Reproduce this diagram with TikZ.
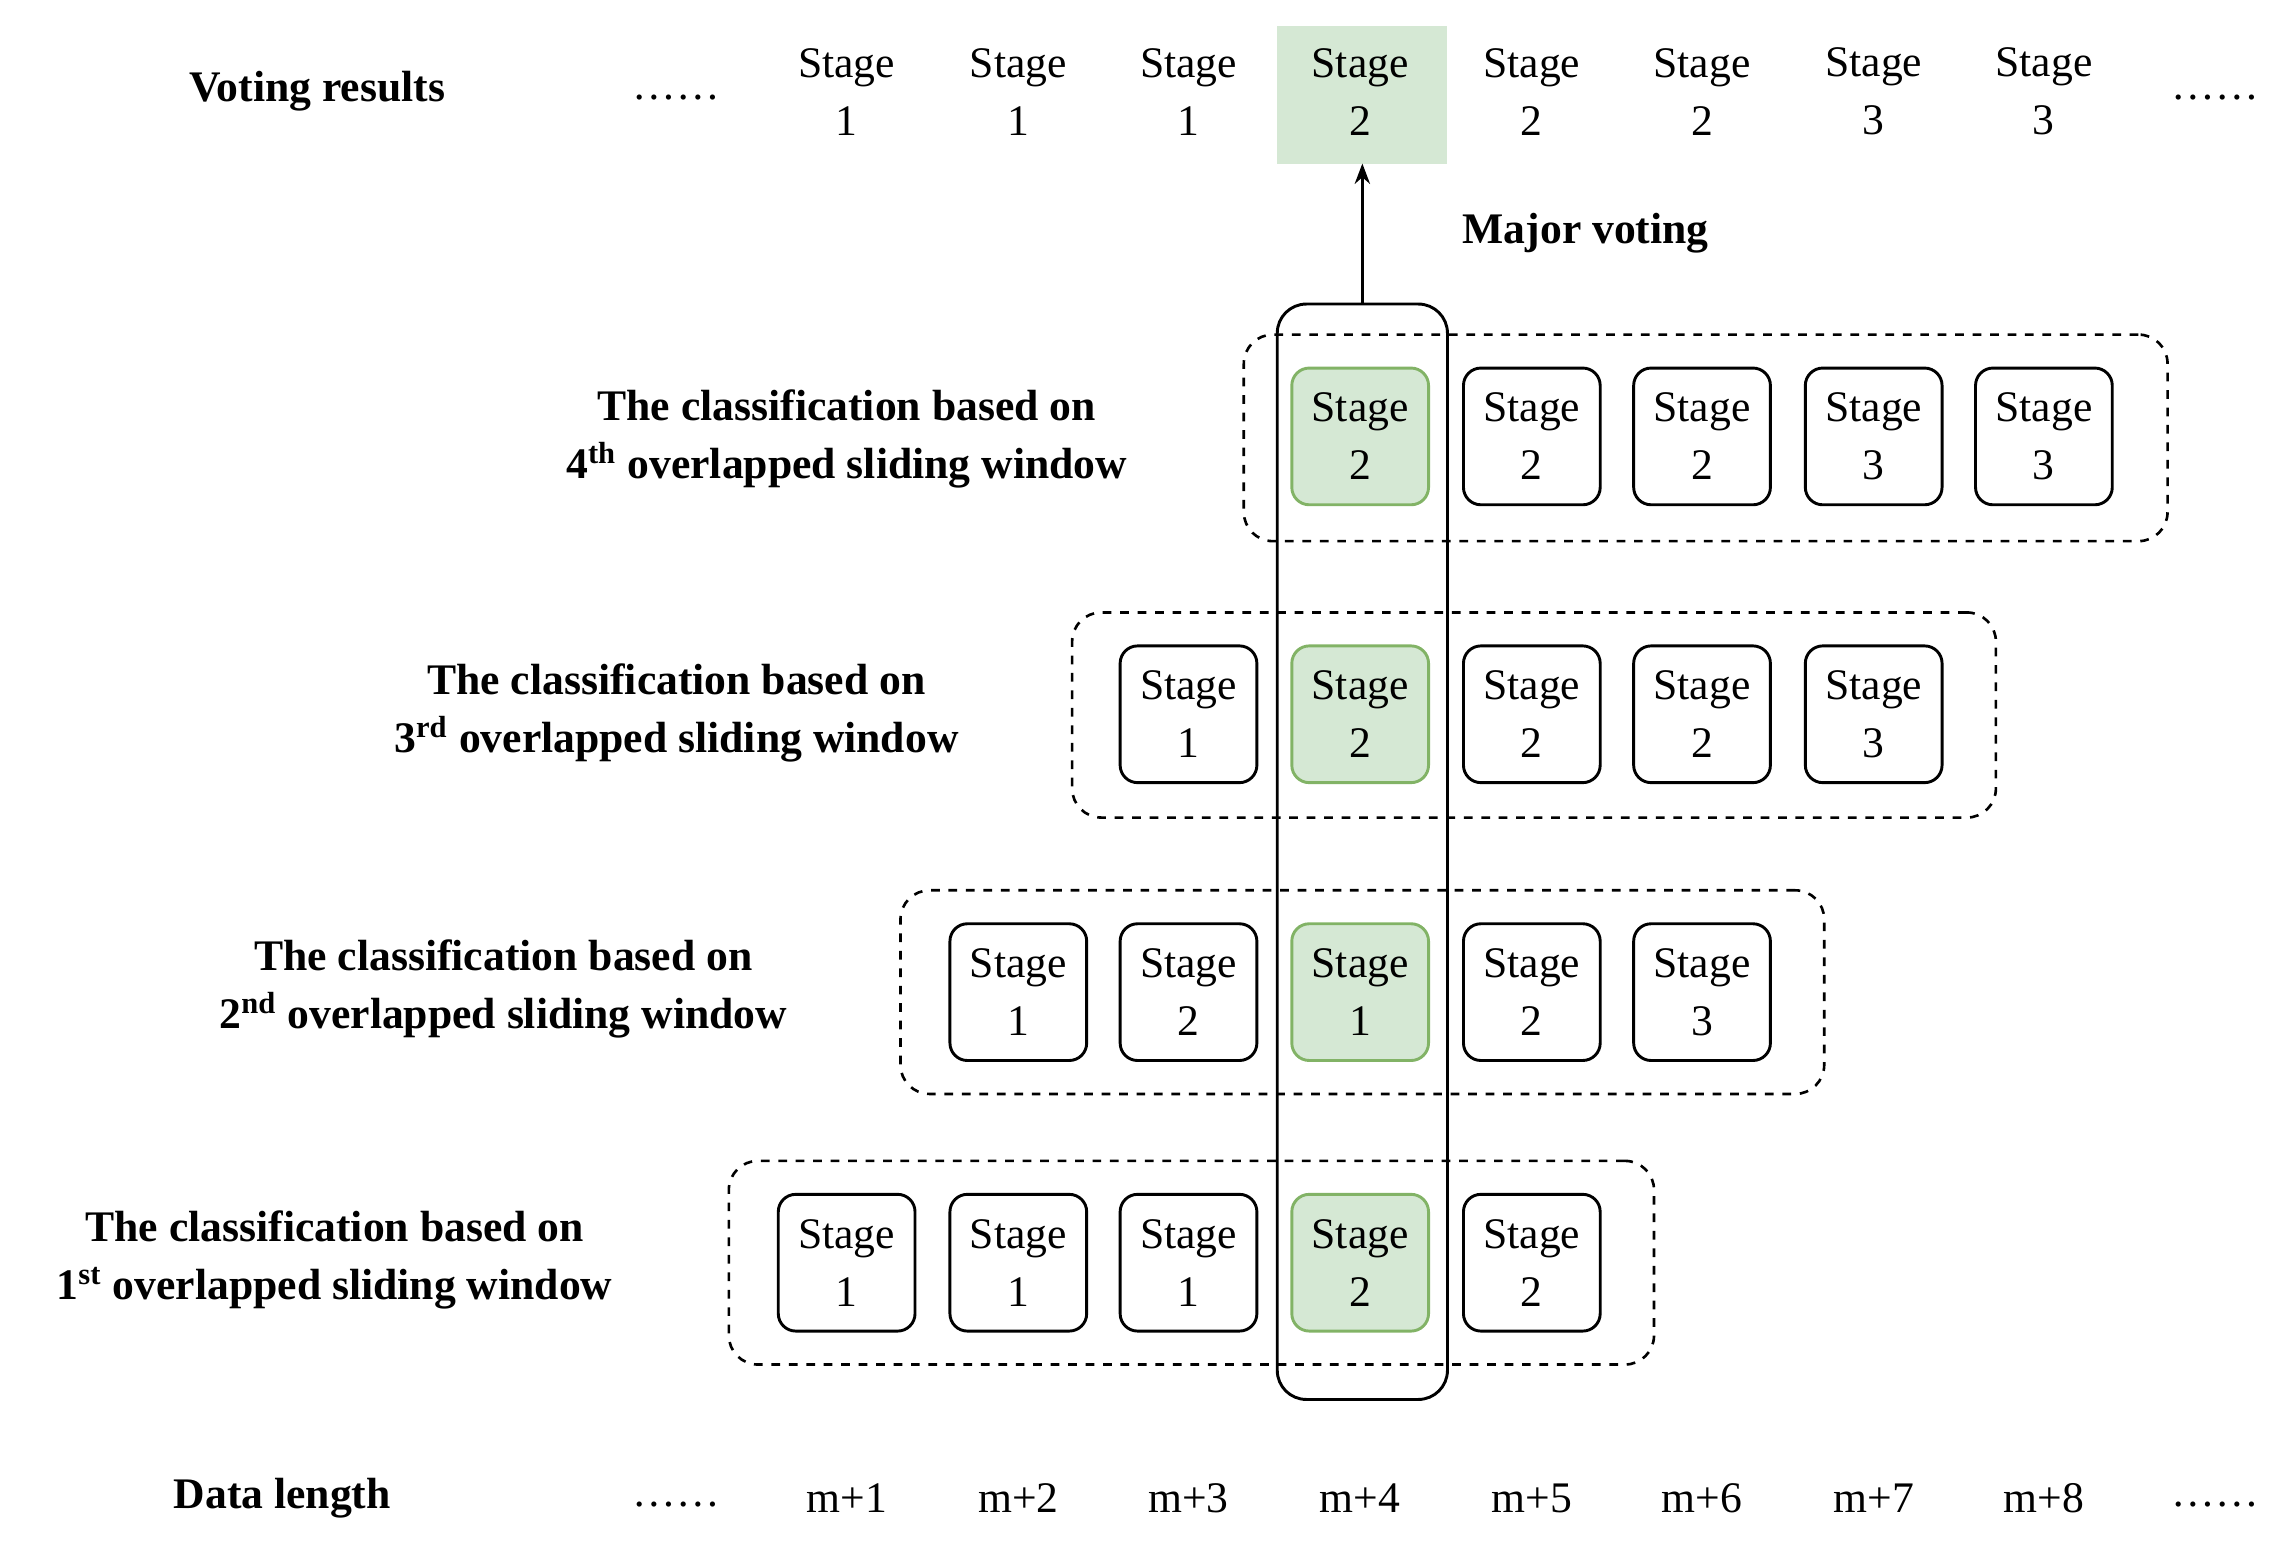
\documentclass[tikz,border=0pt]{standalone}
\usepackage{fontspec}
\setmainfont{Liberation Serif}
\usetikzlibrary{arrows.meta}
\begin{document}
\begin{tikzpicture}[x=0.5pt,y=-0.5pt,
 font=\fontsize{15}{17}\selectfont,
 st/.style={draw,rounded corners=6pt,line width=1pt,minimum width=47pt,minimum height=47pt,inner sep=0pt,align=center},
 gr/.style={fill=gcol,draw=gline},
 win/.style={draw,dashed,rounded corners=10pt,line width=0.9pt},
 lab/.style={font=\fontsize{15}{20}\selectfont\bfseries,align=center},
 plain/.style={align=center,inner sep=0pt}]
\definecolor{gcol}{HTML}{D5E8D4}\definecolor{gline}{HTML}{82B366}
\useasboundingbox (0,0) rectangle (1568,1060);
% voting results
\node[lab] (vr) at (218,63) {Voting results};
\node (d1) at (465,67) {\dots\dots};
\node (d2) at (1523,67) {\dots\dots};
\node[fill=gcol,draw=gcol,minimum width=58pt,minimum height=47pt] (vg) at (936.5,65) {};
\foreach \x/\s [count=\i] in {582/1,700/1,817/1,935/2,1053/2,1170/2,1288/3,1405/3}
  \node[plain,align=center] (v\i) at (\x,63) {Stage\\[3pt]\s};
% column
\node[draw,rounded corners=10pt,line width=1pt,minimum width=58.5pt,minimum height=376.5pt] (col) at (936.5,585.5) {};
\draw[-{Stealth[length=7pt]},line width=1pt] (col.north) -- (vg.south);
\node[lab] (mv) at (1090,160) {Major voting};
% windows
\node[win,minimum width=317.5pt,minimum height=71pt] (w4) at (1172.5,301) {};
\node[win,minimum width=317.5pt,minimum height=70.5pt] (w3) at (1054.5,491.5) {};
\node[win,minimum width=317.5pt,minimum height=70pt] (w2) at (936.5,682) {};
\node[win,minimum width=318pt,minimum height=70pt] (w1) at (819,868) {};
\foreach \x/\s [count=\i] in {1053/2,1170/2,1288/3,1405/3}
  \node[st] (a\i) at (\x,300) {Stage\\[3pt]\s};
\foreach \x/\s [count=\i] in {817/1,1053/2,1170/2,1288/3}
  \node[st] (b\i) at (\x,491) {Stage\\[3pt]\s};
\foreach \x/\s [count=\i] in {700/1,817/2,1053/2,1170/3}
  \node[st] (c\i) at (\x,682) {Stage\\[3pt]\s};
\foreach \x/\s [count=\i] in {582/1,700/1,817/1,1053/2}
  \node[st] (e\i) at (\x,868) {Stage\\[3pt]\s};
\node[st,gr] (ga) at (935,300) {Stage\\[3pt]2};
\node[st,gr] (gb) at (935,491) {Stage\\[3pt]2};
\node[st,gr] (gc) at (935,682) {Stage\\[3pt]1};
\node[st,gr] (ge) at (935,868) {Stage\\[3pt]2};
% labels
\node[lab] (l4) at (582,302) {The classification based on\\4\textsuperscript{th} overlapped sliding window};
\node[lab] (l3) at (465,490) {The classification based on\\3\textsuperscript{rd} overlapped sliding window};
\node[lab] (l2) at (346,680) {The classification based on\\2\textsuperscript{nd} overlapped sliding window};
\node[lab] (l1) at (230,866) {The classification based on\\1\textsuperscript{st} overlapped sliding window};
% data length
\node[lab] (dl) at (194,1030) {Data length};
\node (d3) at (465,1034) {\dots\dots};
\node (d4) at (1523,1034) {\dots\dots};
\foreach \x [count=\i] in {582,700,817,935,1053,1170,1288,1405}
  \node (m\i) at (\x,1030) {m+\i};
\end{tikzpicture}
\end{document}
